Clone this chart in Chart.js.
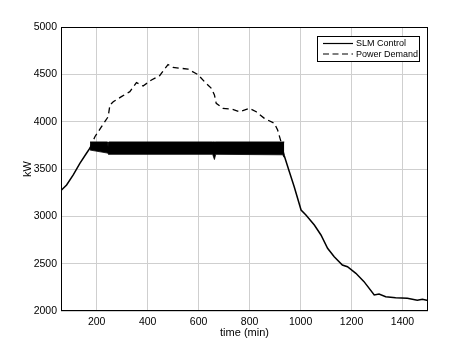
<!DOCTYPE html>
<html>
<head>
<meta charset="utf-8">
<script src="https://cdn.jsdelivr.net/npm/chart.js@4"></script>
<style>
  body { margin: 0; background: #fff; }
  #wrap { width: 474px; height: 349px; }
</style>
</head>
<body>
<div id="wrap"><canvas id="canvas" width="474" height="349"></canvas></div>
<script>
// SLM control (solid line), time in minutes
const slmX = [60, 82, 108, 134, 160, 173, 180, 930, 936, 956, 975, 1002, 1021, 1054, 1080, 1106, 1132, 1164, 1184, 1217, 1249, 1289, 1308, 1334, 1373, 1419, 1458, 1478, 1500];
const slmY = [3272, 3331, 3437, 3560, 3666, 3719, 3730, 3700, 3640, 3471, 3313, 3067, 3014, 2908, 2803, 2662, 2574, 2486, 2468, 2398, 2310, 2169, 2180, 2151, 2141, 2134, 2113, 2124, 2110];

// oscillating part of SLM control, drawn as upper / lower envelope
const bandX = [174, 243, 245, 247, 655, 662, 667, 930, 936];
const bandTop = [3785, 3785, 3720, 3785, 3785, 3785, 3785, 3785, 3785];
const bandBottom = [3700, 3668, 3660, 3655, 3655, 3600, 3655, 3650, 3620];

// power demand (dashed line)
const demandX = [173, 193, 219, 245, 252, 265, 297, 330, 356, 382, 415, 447, 480, 499, 532, 558, 597, 623, 650, 662, 669, 695, 728, 760, 799, 826, 858, 897, 910, 923];
const demandY = [3719, 3841, 3947, 4052, 4176, 4211, 4264, 4317, 4412, 4377, 4440, 4486, 4603, 4574, 4563, 4556, 4498, 4422, 4352, 4282, 4194, 4141, 4134, 4105, 4141, 4105, 4035, 3983, 3912, 3790];

const xTicks = [200, 400, 600, 800, 1000, 1200, 1400];
const yTicks = [2000, 2500, 3000, 3500, 4000, 4500, 5000];
const legendItems = ['SLM Control', 'Power Demand'];

const font = '"Liberation Sans", Arial, sans-serif';

function pts(xs, ys) {
    return xs.map((x, i) => ({x: x, y: ys[i]}));
}

// frame around plot + legend box inside the plot area
const framePlugin = {
    id: 'frame',
    afterDatasetsDraw(chart) {
        const ctx = chart.ctx;
        const a = chart.chartArea;
        ctx.save();
        ctx.strokeStyle = '#000';
        ctx.lineWidth = 1;
        ctx.strokeRect(a.left + 0.5, a.top + 0.5, a.right - a.left - 1, a.bottom - a.top - 1);

        // legend
        const bx = a.right - 111, by = a.top + 9, bw = 102, bh = 25;
        ctx.fillStyle = '#fff';
        ctx.fillRect(bx, by, bw, bh);
        ctx.strokeRect(bx + 0.5, by + 0.5, bw, bh);
        ctx.font = '9px ' + font;
        ctx.textBaseline = 'middle';
        ctx.fillStyle = '#000';
        ctx.lineWidth = 1.2;
        for (let i = 0; i < legendItems.length; i++) {
            const y = by + 7.5 + i * 10.5;
            ctx.setLineDash(i === 1 ? [6, 3.5] : []);
            ctx.beginPath();
            ctx.moveTo(bx + 6, y);
            ctx.lineTo(bx + 36, y);
            ctx.stroke();
            ctx.fillText(legendItems[i], bx + 39, y + 0.5);
        }
        ctx.restore();
    }
};

new Chart(document.getElementById('canvas'), {
    type: 'line',
    data: {
        datasets: [
            {
                data: pts(demandX, demandY),
                borderColor: '#000',
                borderWidth: 1.3,
                borderDash: [6, 4],
                pointRadius: 0,
                fill: false
            },
            {
                data: pts(bandX, bandTop),
                borderColor: '#000',
                borderWidth: 1,
                pointRadius: 0,
                fill: false
            },
            {
                data: pts(bandX, bandBottom),
                borderColor: '#000',
                borderWidth: 0.8,
                backgroundColor: '#000',
                pointRadius: 0,
                fill: '-1'
            },
            {
                data: pts(slmX, slmY),
                borderColor: '#000',
                borderWidth: 1.5,
                pointRadius: 0,
                fill: false
            }
        ]
    },
    options: {
        responsive: false,
        animation: false,
        layout: {
            padding: {top: 27, right: 46, left: 0, bottom: 0}
        },
        plugins: {
            legend: {display: false},
            tooltip: {enabled: false}
        },
        scales: {
            x: {
                type: 'linear',
                min: 60,
                max: 1500,
                afterFit: s => { s.height = 38; },
                afterBuildTicks: s => { s.ticks = xTicks.map(v => ({value: v})); },
                grid: {color: '#cfcfcf', lineWidth: 1, drawTicks: false},
                border: {display: false},
                ticks: {
                    padding: 5,
                    color: '#000',
                    autoSkip: false,
                    maxRotation: 0,
                    callback: v => String(v),
                    font: {family: font, size: 10.5}
                },
                title: {
                    display: true,
                    text: 'time (min)',
                    color: '#000',
                    padding: {top: 9, bottom: 9},
                    font: {family: font, size: 11}
                }
            },
            y: {
                min: 2000,
                max: 5000,
                afterFit: s => { s.width = 61; },
                afterBuildTicks: s => { s.ticks = yTicks.map(v => ({value: v})); },
                grid: {color: '#cfcfcf', lineWidth: 1, drawTicks: false},
                border: {display: false},
                ticks: {
                    padding: 4,
                    color: '#000',
                    callback: v => String(v),
                    font: {family: font, size: 10.5}
                },
                title: {
                    display: true,
                    text: 'kW',
                    color: '#000',
                    padding: {top: 21, bottom: 21},
                    font: {family: font, size: 11}
                }
            }
        }
    },
    plugins: [framePlugin]
});
</script>
</body>
</html>
